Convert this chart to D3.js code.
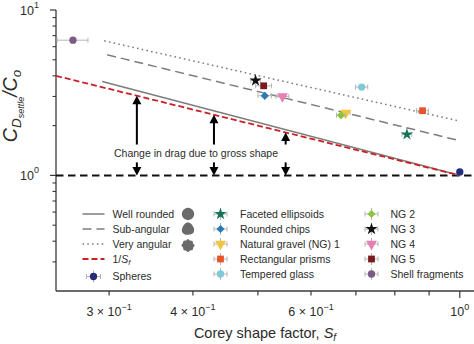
<!DOCTYPE html>
<html>
<head>
<meta charset="utf-8">
<script src="https://cdn.jsdelivr.net/npm/d3@7"></script>
<style>
  body { margin: 0; background: #fff; }
  text { font-family: "Liberation Sans", Arial, sans-serif; fill: #2b2b2b; }
</style>
</head>
<body>
<svg id="chart" width="474" height="344"></svg>
<script>
// ---- axis extents ----
const sfDomain = [0.25, 1.05];
const cdDomain = [0.2, 10];

// ---- shape curves (end points on log-log axes: [Sf, CD/Co]) ----
const wellRounded = [[0.293, 3.70], [0.995, 1.005]];
const subAngular  = [[0.298, 5.36], [0.994, 1.63]];
const veryAngular = [[0.295, 6.51], [0.994, 2.14]];
const inverseSfSpan = [0.25, 1.0];   // 1/Sf reference line

// ---- measured particles ----
const seriesNames  = ["Spheres", "Faceted ellipsoids", "Rounded chips", "Natural gravel (NG) 1",
                      "Rectangular prisms", "Tempered glass", "NG 2", "NG 3", "NG 4", "NG 5", "Shell fragments"];
const seriesSf     = [1.0, 0.834, 0.512, 0.676, 0.880, 0.714, 0.665, 0.496, 0.544, 0.510, 0.265];
const seriesCd     = [1.05, 1.77, 3.03, 2.39, 2.46, 3.42, 2.31, 3.75, 3.00, 3.48, 6.57];
const seriesSfErr  = [0.006, 0.014, 0.012, 0.010, 0.018, 0.015, 0.010, 0.008, 0.012, 0.014, 0.014];
const seriesColors = ["#262d7d", "#16735a", "#2a7ab8", "#f3c540", "#e8552b", "#7fcad6",
                      "#8cc43f", "#111111", "#e77fb5", "#7a1a1e", "#7b5a85"];
const seriesSymbols = ["circle", "star", "diamond", "triDown", "square", "circle",
                       "diamond", "star", "triDown", "square", "circle"];

// ---- annotation ----
const arrowSf = [0.33, 0.43, 0.55];
const arrowUpTail = 1.537, arrowDownTail = 1.198, annotationLevel = 1.357;
const annotationText = "Change in drag due to gross shape";

// ---- tick values ----
const xTicks = [0.3, 0.4, 0.5, 0.6, 0.7, 0.8, 0.9, 1.0];
const xLabelled = { 0.3: ["3", "\u22121"], 0.4: ["4", "\u22121"], 0.6: ["6", "\u22121"], 1.0: [null, "0"] };
const yMajor = [1, 10];
const yMinor = [0.3, 0.4, 0.5, 0.6, 0.7, 0.8, 0.9, 2, 3, 4, 5, 6, 7, 8, 9];

const svg = d3.select("#chart");
const mLeft = 56, mRight = 474, mTop = 10, mBottom = 291;

const x = d3.scaleLog().domain(sfDomain).range([mLeft, mRight]);
const y = d3.scaleLog().domain(cdDomain).range([mBottom, mTop]);
const axisColor = "#3a3a3a";

// ---- axes ----
const xAxis = svg.append("g").attr("transform", `translate(0,${mBottom})`);
xAxis.append("line").attr("x1", mLeft).attr("x2", mRight).attr("stroke", axisColor).attr("stroke-width", 1.3);
xAxis.selectAll(".tk").data(xTicks).join("line")
  .attr("x1", d => x(d)).attr("x2", d => x(d))
  .attr("y1", 0).attr("y2", d => d === 1.0 ? 7 : 4.5)
  .attr("stroke", axisColor).attr("stroke-width", 1.2);
xTicks.filter(d => xLabelled[d]).forEach(d => {
  const [mant, exp] = xLabelled[d];
  const t = xAxis.append("text").attr("x", x(d)).attr("y", 25)
    .attr("text-anchor", "middle").attr("font-size", 12.5);
  t.append("tspan").text(mant ? mant + " \u00d7 10" : "10");
  t.append("tspan").attr("font-size", 9).attr("dy", -6.5).text(exp);
});

const yAxis = svg.append("g").attr("transform", `translate(${mLeft},0)`);
yAxis.append("line").attr("y1", mTop).attr("y2", mBottom).attr("stroke", axisColor).attr("stroke-width", 1.3);
yAxis.selectAll(".mj").data(yMajor).join("line")
  .attr("x1", -6).attr("x2", 0).attr("y1", d => y(d)).attr("y2", d => y(d))
  .attr("stroke", axisColor).attr("stroke-width", 1.2);
yAxis.selectAll(".mn").data(yMinor).join("line")
  .attr("x1", -3.5).attr("x2", 0).attr("y1", d => y(d)).attr("y2", d => y(d))
  .attr("stroke", axisColor).attr("stroke-width", 1.1);
yMajor.forEach(d => {
  const t = yAxis.append("text").attr("x", -17).attr("y", y(d) + 4.5)
    .attr("text-anchor", "end").attr("font-size", 12.5);
  t.append("tspan").text("10");
  t.append("tspan").attr("font-size", 9).attr("dy", -6.5).text(Math.round(Math.log10(d)));
});

// axis titles
const xt = svg.append("text").attr("x", (mLeft + mRight) / 2).attr("y", 338)
  .attr("text-anchor", "middle").attr("font-size", 14.5);
xt.append("tspan").text("Corey shape factor, ");
xt.append("tspan").attr("font-style", "italic").text("S");
xt.append("tspan").attr("font-style", "italic").attr("font-size", 10).attr("dy", 3).text("f");

const yt = svg.append("text").attr("transform", "translate(17,106) rotate(-90)")
  .attr("text-anchor", "middle").attr("font-size", 19.5).attr("font-style", "italic");
yt.append("tspan").text("C");
yt.append("tspan").attr("font-size", 13.5).attr("dy", 3.8).text("D");
yt.append("tspan").attr("font-size", 9).attr("dy", 3).text("settle");
yt.append("tspan").attr("dy", -6.8).text("/C");
yt.append("tspan").attr("font-size", 13.5).attr("dy", 3.8).text("o");

// ---- lines ----
const line = d3.line().x(d => x(d[0])).y(d => y(d[1]));
const plot = svg.append("g");

plot.append("path").datum([[sfDomain[0], 1], [sfDomain[1], 1]]).attr("d", line)
  .attr("fill", "none").attr("stroke", "#111").attr("stroke-width", 2).attr("stroke-dasharray", "7.5,4.5");

const curveStyles = [
  { data: wellRounded, dash: null, w: 1.5 },
  { data: subAngular, dash: "9,5", w: 1.5 },
  { data: veryAngular, dash: "1.6,3.2", w: 1.5 }
];
curveStyles.forEach(c => {
  plot.append("path").datum(c.data).attr("d", line).attr("fill", "none")
    .attr("stroke", "#7d7d7d").attr("stroke-width", c.w)
    .attr("stroke-dasharray", c.dash);
});
plot.append("path").datum(inverseSfSpan.map(s => [s, 1 / s])).attr("d", line)
  .attr("fill", "none").attr("stroke", "#cc2027").attr("stroke-width", 1.8)
  .attr("stroke-dasharray", "6,3");

// ---- annotation arrows ----
function arrow(g, x0, y0, y1) {
  const dir = y1 < y0 ? -1 : 1, head = 8.5, hw = 4.5;
  g.append("line").attr("x1", x0).attr("x2", x0).attr("y1", y0).attr("y2", y1 - dir * head + dir)
    .attr("stroke", "#000").attr("stroke-width", 2);
  g.append("path").attr("d", `M${x0},${y1} L${x0 - hw},${y1 - dir * head} L${x0 + hw},${y1 - dir * head} Z`)
    .attr("fill", "#000");
}
const ann = svg.append("g");
arrowSf.forEach(s => {
  arrow(ann, x(s), y(arrowUpTail), y(1 / s));
  arrow(ann, x(s), y(arrowDownTail), y(1));
});
ann.append("text").attr("x", 196).attr("y", y(annotationLevel) + 3.8)
  .attr("text-anchor", "middle").attr("font-size", 10.5).text(annotationText);

// ---- markers ----
const symbolMap = {
  circle:  { type: d3.symbolCircle, size: 42, rot: 0 },
  star:    { type: d3.symbolStar, size: 46, rot: 0 },
  diamond: { type: d3.symbolSquare, size: 34, rot: 45 },
  triDown: { type: d3.symbolTriangle, size: 52, rot: 180 },
  square:  { type: d3.symbolSquare, size: 46, rot: 0 }
};
function drawMarker(g, cx, cy, sym, color, xerrPx, legend) {
  const eb = "#b5b5b5";
  if (xerrPx) {
    g.append("line").attr("x1", cx - xerrPx[0]).attr("x2", cx + xerrPx[1]).attr("y1", cy).attr("y2", cy)
      .attr("stroke", eb).attr("stroke-width", 1);
    [cx - xerrPx[0], cx + xerrPx[1]].forEach(ex =>
      g.append("line").attr("x1", ex).attr("x2", ex).attr("y1", cy - 2.5).attr("y2", cy + 2.5)
        .attr("stroke", eb).attr("stroke-width", 1));
  }
  if (legend) {
    g.append("line").attr("x1", cx).attr("x2", cx).attr("y1", cy - 6).attr("y2", cy + 6)
      .attr("stroke", eb).attr("stroke-width", 1);
  }
  const s = symbolMap[sym];
  g.append("path").attr("d", d3.symbol().type(s.type).size(s.size)())
    .attr("transform", `translate(${cx},${cy}) rotate(${s.rot})`)
    .attr("fill", color);
}
const pts = svg.append("g");
seriesSf.forEach((sf, i) => {
  const cx = x(sf), cy = y(seriesCd[i]);
  drawMarker(pts, cx, cy, seriesSymbols[i], seriesColors[i],
    [cx - x(sf - seriesSfErr[i]), x(sf + seriesSfErr[i]) - cx], false);
});

// ---- legend ----
const lg = svg.append("g");
const rowY = [214, 229, 244, 259, 274];
const col1Labels = ["Well rounded", "Sub-angular", "Very angular"];
curveStyles.forEach((c, i) => {
  lg.append("line").attr("x1", 82.5).attr("x2", 104.5).attr("y1", rowY[i]).attr("y2", rowY[i])
    .attr("stroke", "#7d7d7d").attr("stroke-width", c.w).attr("stroke-dasharray", c.dash);
  lg.append("text").attr("x", 112.5).attr("y", rowY[i] + 3.8).attr("font-size", 10.5).text(col1Labels[i]);
});
lg.append("line").attr("x1", 82.5).attr("x2", 104.5).attr("y1", rowY[3]).attr("y2", rowY[3])
  .attr("stroke", "#cc2027").attr("stroke-width", 1.8).attr("stroke-dasharray", "6,3");
const inv = lg.append("text").attr("x", 112.5).attr("y", rowY[3] + 3.8).attr("font-size", 10.5);
inv.append("tspan").text("1/");
inv.append("tspan").attr("font-style", "italic").text("S");
inv.append("tspan").attr("font-style", "italic").attr("font-size", 7.5).attr("dy", 2).text("f");
drawMarker(lg, 93.5, 276.5, seriesSymbols[0], seriesColors[0], [7, 7], true);
lg.append("text").attr("x", 112.5).attr("y", 276.5 + 3.8).attr("font-size", 10.5).text(seriesNames[0]);

// particle outline icons: radius profile around each silhouette
const blobRound   = [6.2, 6.2, 6.2, 6.2, 6.2, 6.2, 6.2, 6.2, 6.2, 6.2, 6.2, 6.2];
const blobSubAng  = [6.4, 6.0, 5.6, 6.1, 6.5, 6.2, 5.8, 6.3, 6.6, 6.0, 5.7, 6.2];
const blobVeryAng = [6.6, 5.4, 6.3, 5.5, 6.7, 5.6, 6.4, 5.3, 6.6, 5.5, 6.2, 5.4, 6.5, 5.6, 6.3, 5.5];
const radial = d3.lineRadial().curve(d3.curveCardinalClosed);
[blobRound, blobSubAng, blobVeryAng].forEach((b, i) => {
  const pathD = radial(b.map((r, k) => [k * 2 * Math.PI / b.length, r]));
  lg.append("path").attr("d", pathD).attr("transform", `translate(188,${rowY[i] + (i === 2 ? 1.5 : 0)})`)
    .attr("fill", "#6b6b6b");
});

const colX = [[220.5, 240], [371.5, 390.5]];
[1, 6].forEach((start, c) => {
  for (let r = 0; r < 5; r++) {
    const i = start + r;
    drawMarker(lg, colX[c][0], rowY[r], seriesSymbols[i], seriesColors[i], [6.5, 6.5], true);
    lg.append("text").attr("x", colX[c][1]).attr("y", rowY[r] + 3.8).attr("font-size", 10.5).text(seriesNames[i]);
  }
});
</script>
</body>
</html>
